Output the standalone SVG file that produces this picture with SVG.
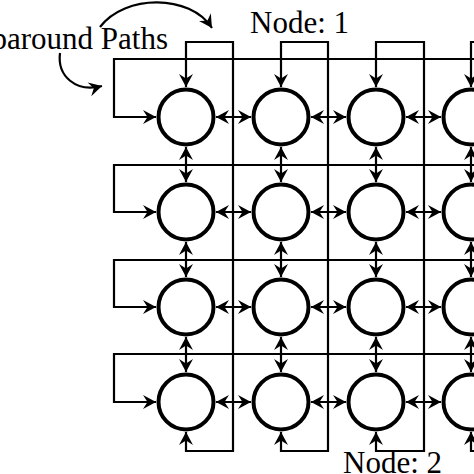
<svg xmlns="http://www.w3.org/2000/svg" width="474" height="474" viewBox="0 0 474 474">
<style>
.node{fill:#fff;stroke:#000;stroke-width:4}
.c{fill:none;stroke:#000;stroke-width:2.2}
.dbl{marker-start:url(#ah);marker-end:url(#ah)}
.end{marker-end:url(#ah)}
.st{marker-start:url(#ah)}
text{font-family:"Liberation Serif","Times New Roman",serif;font-size:31px;fill:#000}
</style>
<defs>
<marker id="ah" markerUnits="userSpaceOnUse" markerWidth="18" markerHeight="18" viewBox="-14 -9 18 18" refX="0" refY="0" orient="auto-start-reverse">
<path d="M0,0 L-13,-7 L-8.5,0 L-13,7 Z" fill="#000"/>
</marker>
</defs>
<rect width="474" height="474" fill="#fff"/>
<g id="connectors">
<path class="c st" d="M156,117 L114,117 L114,59 L480,59"/>
<path class="c st" d="M156,212 L114,212 L114,165 L480,165"/>
<path class="c st" d="M156,307 L114,307 L114,260 L480,260"/>
<path class="c st" d="M156,402 L114,402 L114,354 L480,354"/>
<path class="c dbl" d="M186,87 L186,42 L233,42 L233,451 L186,451 L186,432"/>
<path class="c dbl" d="M281,87 L281,42 L328,42 L328,451 L281,451 L281,432"/>
<path class="c dbl" d="M376,87 L376,42 L424,42 L424,451 L376,451 L376,432"/>
<path class="c dbl" d="M471,87 L471,42 L518,42 L518,451 L471,451 L471,432"/>
<path class="c dbl" d="M216,117 L251,117"/>
<path class="c dbl" d="M311,117 L346,117"/>
<path class="c dbl" d="M406,117 L441,117"/>
<path class="c dbl" d="M216,212 L251,212"/>
<path class="c dbl" d="M311,212 L346,212"/>
<path class="c dbl" d="M406,212 L441,212"/>
<path class="c dbl" d="M216,307 L251,307"/>
<path class="c dbl" d="M311,307 L346,307"/>
<path class="c dbl" d="M406,307 L441,307"/>
<path class="c dbl" d="M216,402 L251,402"/>
<path class="c dbl" d="M311,402 L346,402"/>
<path class="c dbl" d="M406,402 L441,402"/>
<path class="c dbl" d="M186,147 L186,182"/>
<path class="c dbl" d="M186,242 L186,277"/>
<path class="c dbl" d="M186,337 L186,372"/>
<path class="c dbl" d="M281,147 L281,182"/>
<path class="c dbl" d="M281,242 L281,277"/>
<path class="c dbl" d="M281,337 L281,372"/>
<path class="c dbl" d="M376,147 L376,182"/>
<path class="c dbl" d="M376,242 L376,277"/>
<path class="c dbl" d="M376,337 L376,372"/>
<path class="c dbl" d="M471,147 L471,182"/>
<path class="c dbl" d="M471,242 L471,277"/>
<path class="c dbl" d="M471,337 L471,372"/>
<path class="c end" d="M100,27 C125,-6 190,-6 212,28"/>
<path class="c end" d="M60,53 C57,76 76,93 102,86"/>
</g>
<g id="nodes">
<g id="n11"><circle class="node" cx="186" cy="117" r="27.5"/></g>
<g id="n12"><circle class="node" cx="281" cy="117" r="27.5"/></g>
<g id="n13"><circle class="node" cx="376" cy="117" r="27.5"/></g>
<g id="n14"><circle class="node" cx="471" cy="117" r="27.5"/></g>
<g id="n21"><circle class="node" cx="186" cy="212" r="27.5"/></g>
<g id="n22"><circle class="node" cx="281" cy="212" r="27.5"/></g>
<g id="n23"><circle class="node" cx="376" cy="212" r="27.5"/></g>
<g id="n24"><circle class="node" cx="471" cy="212" r="27.5"/></g>
<g id="n31"><circle class="node" cx="186" cy="307" r="27.5"/></g>
<g id="n32"><circle class="node" cx="281" cy="307" r="27.5"/></g>
<g id="n33"><circle class="node" cx="376" cy="307" r="27.5"/></g>
<g id="n34"><circle class="node" cx="471" cy="307" r="27.5"/></g>
<g id="n41"><circle class="node" cx="186" cy="402" r="27.5"/></g>
<g id="n42"><circle class="node" cx="281" cy="402" r="27.5"/></g>
<g id="n43"><circle class="node" cx="376" cy="402" r="27.5"/></g>
<g id="n44"><circle class="node" cx="471" cy="402" r="27.5"/></g>
</g>
<g id="labels">
<text x="168" y="49" text-anchor="end">Wraparound Paths</text>
<text x="250" y="33">Node: 1</text>
<text x="343" y="473">Node: 2</text>
</g>
</svg>
